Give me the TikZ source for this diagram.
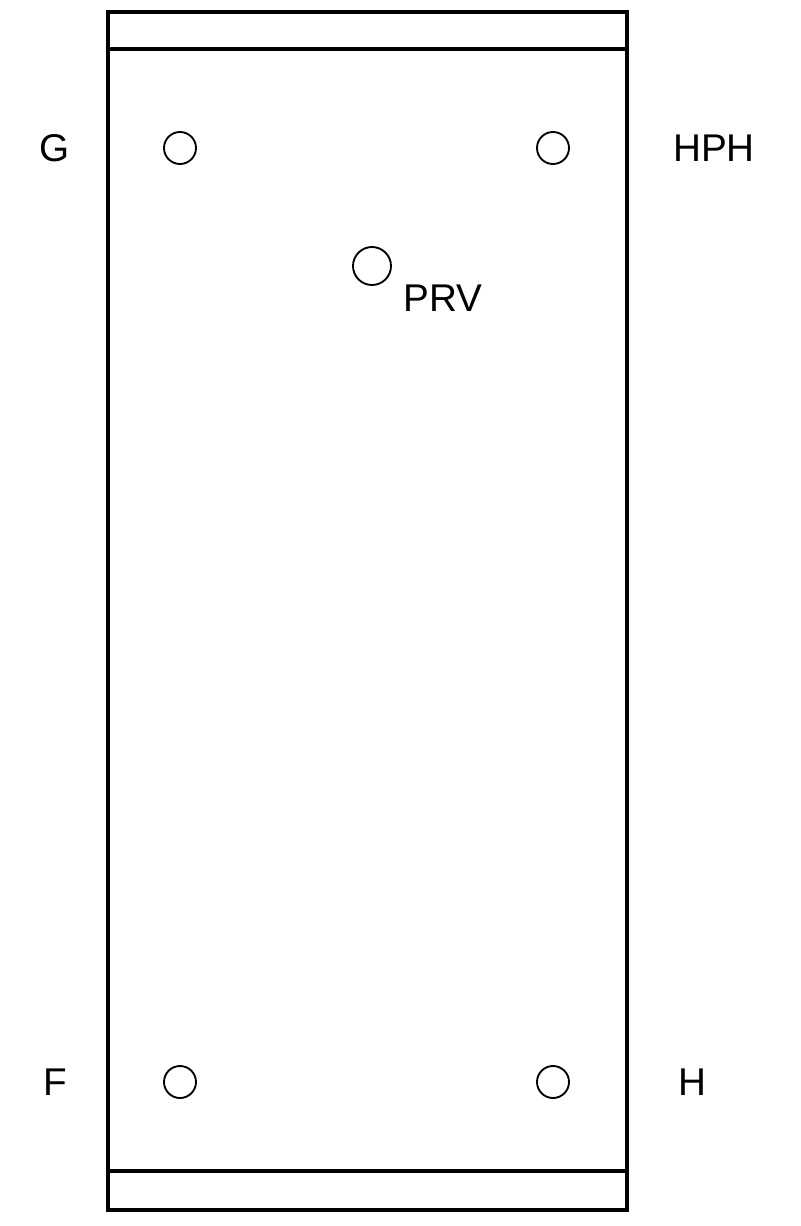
\documentclass[tikz,border=0pt]{standalone}
\usepackage{fontspec}
\setmainfont{Liberation Sans}
\usepackage{tikz}

\tikzset{
  port/.style={circle,draw,line width=1.6pt,minimum size=32*0.03cm,inner sep=0pt},
  portlabel/.style={inner sep=0pt,font=\fontsize{33}{40}\selectfont}
}

\begin{document}
\begin{tikzpicture}[x=0.03cm,y=-0.03cm]
    \useasboundingbox (0,0) rectangle (800,1226);
    \draw[line width=3.4pt] (108,12) rectangle (627,1210);
    \draw[line width=3.4pt] (108,49) -- (627,49);
    \draw[line width=3.4pt] (108,1171) -- (627,1171);
    \node[port] (g) at (180,148) {};
    \node[port] (hph) at (553,148) {};
    \node[port,minimum size=38*0.03cm] (prv) at (372,266) {};
    \node[port] (f) at (180,1082) {};
    \node[port] (h) at (553,1082) {};
    \node[portlabel] (glabel) at (55,148) {G};
    \node[portlabel] (hphlabel) at (714,148) {HPH};
    \node[portlabel] (prvlabel) at (443,298) {PRV};
    \node[portlabel] (flabel) at (55,1082) {F};
    \node[portlabel] (hlabel) at (692,1082) {H};
  \end{tikzpicture}
\end{document}
